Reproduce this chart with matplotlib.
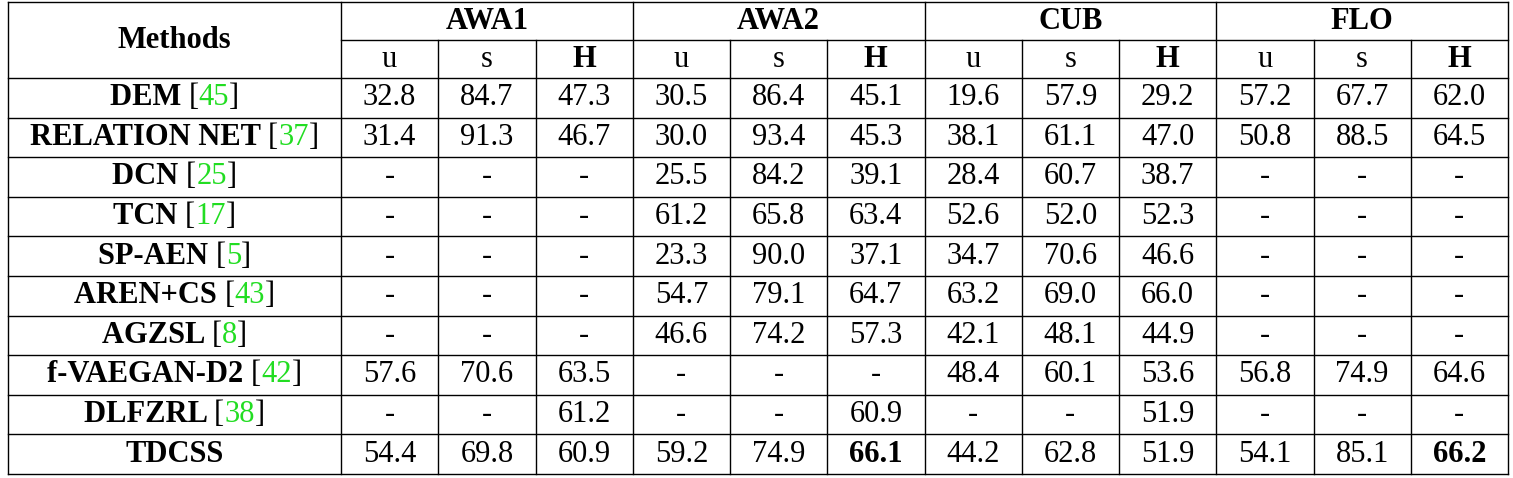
import matplotlib
matplotlib.use("Agg")
import matplotlib.pyplot as plt

methods = ["DEM", "RELATION NET", "DCN", "TCN", "SP-AEN", "AREN+CS", "AGZSL", "f-VAEGAN-D2", "DLFZRL", "TDCSS"]
refs = ["45", "37", "25", "17", "5", "43", "8", "42", "38", None]
datasets = ["AWA1", "AWA2", "CUB", "FLO"]
subs = ["u", "s", "H"]
values = [
    ["32.8","84.7","47.3","30.5","86.4","45.1","19.6","57.9","29.2","57.2","67.7","62.0"],
    ["31.4","91.3","46.7","30.0","93.4","45.3","38.1","61.1","47.0","50.8","88.5","64.5"],
    ["-","-","-","25.5","84.2","39.1","28.4","60.7","38.7","-","-","-"],
    ["-","-","-","61.2","65.8","63.4","52.6","52.0","52.3","-","-","-"],
    ["-","-","-","23.3","90.0","37.1","34.7","70.6","46.6","-","-","-"],
    ["-","-","-","54.7","79.1","64.7","63.2","69.0","66.0","-","-","-"],
    ["-","-","-","46.6","74.2","57.3","42.1","48.1","44.9","-","-","-"],
    ["57.6","70.6","63.5","-","-","-","48.4","60.1","53.6","56.8","74.9","64.6"],
    ["-","-","61.2","-","-","60.9","-","-","51.9","-","-","-"],
    ["54.4","69.8","60.9","59.2","74.9","66.1","44.2","62.8","51.9","54.1","85.1","66.2"],
]
bold_cells = {(9, 5), (9, 11)}

W, Hh = 1513, 478
fig = plt.figure(figsize=(W/100, Hh/100), dpi=100)
ax = fig.add_axes([0, 0, 1, 1])
ax.set_xlim(0, W); ax.set_ylim(Hh, 0); ax.axis("off")
plt.rcParams['font.family'] = ['Liberation Serif']
fs = 22
lw = 1.0

x0, xm, xe = 8, 341, 1508
cw = (xe - xm) / 12
y0, y1, y2 = 2, 40, 78
rh = (474 - y2) / 10
ye = y2 + rh * 10

ax.plot([x0, xe], [y0, y0], 'k', lw=lw)
ax.plot([xm, xe], [y1, y1], 'k', lw=lw)
for i in range(11):
    y = y2 + i * rh
    ax.plot([x0, xe], [y, y], 'k', lw=lw)
for x in [x0, xm, xe]:
    ax.plot([x, x], [y0, ye], 'k', lw=lw)
for j in range(1, 12):
    x = xm + j * cw
    top = y0 if j % 3 == 0 else y1
    ax.plot([x, x], [top, ye], 'k', lw=lw)

ax.text((x0 + xm) / 2, (y0 + y2) / 2, "Methods", ha='center', va='center', fontsize=fs, fontweight='bold')
for d, name in enumerate(datasets):
    ax.text(xm + (d * 3 + 1.5) * cw, (y0 + y1) / 2, name, ha='center', va='center', fontsize=fs, fontweight='bold')
    for k, s in enumerate(subs):
        ax.text(xm + (d * 3 + k + 0.5) * cw, (y1 + y2) / 2, s, ha='center', va='center', fontsize=fs,
                fontweight='bold' if s == "H" else 'normal')

fig.canvas.draw()
r_ = fig.canvas.get_renderer()
for i, (m, r) in enumerate(zip(methods, refs)):
    yc = y2 + (i + 0.5) * rh
    xc = (x0 + xm) / 2
    if r is None:
        ax.text(xc, yc, m, ha='center', va='center', fontsize=fs, fontweight='bold')
    else:
        tb = ax.text(0, -100, m + " ", fontsize=fs, fontweight='bold')
        tn = ax.text(0, -100, "[" + r + "]", fontsize=fs)
        wb = tb.get_window_extent(r_).width
        wn = tn.get_window_extent(r_).width
        tb.remove(); tn.remove()
        start = xc - (wb + wn) / 2
        ax.text(start, yc, m + " ", ha='left', va='center', fontsize=fs, fontweight='bold')
        tl = ax.text(start + wb, yc, "[", ha='left', va='center', fontsize=fs)
        wl = tl.get_window_extent(r_).width
        tr = ax.text(start + wb + wl, yc, r, ha='left', va='center', fontsize=fs, color='#22dd22')
        wr = tr.get_window_extent(r_).width
        ax.text(start + wb + wl + wr, yc, "]", ha='left', va='center', fontsize=fs)
    for j, v in enumerate(values[i]):
        ax.text(xm + (j + 0.5) * cw, yc, v, ha='center', va='center', fontsize=fs,
                fontweight='bold' if (i, j) in bold_cells else 'normal')

fig.savefig("out.png", dpi=100)
